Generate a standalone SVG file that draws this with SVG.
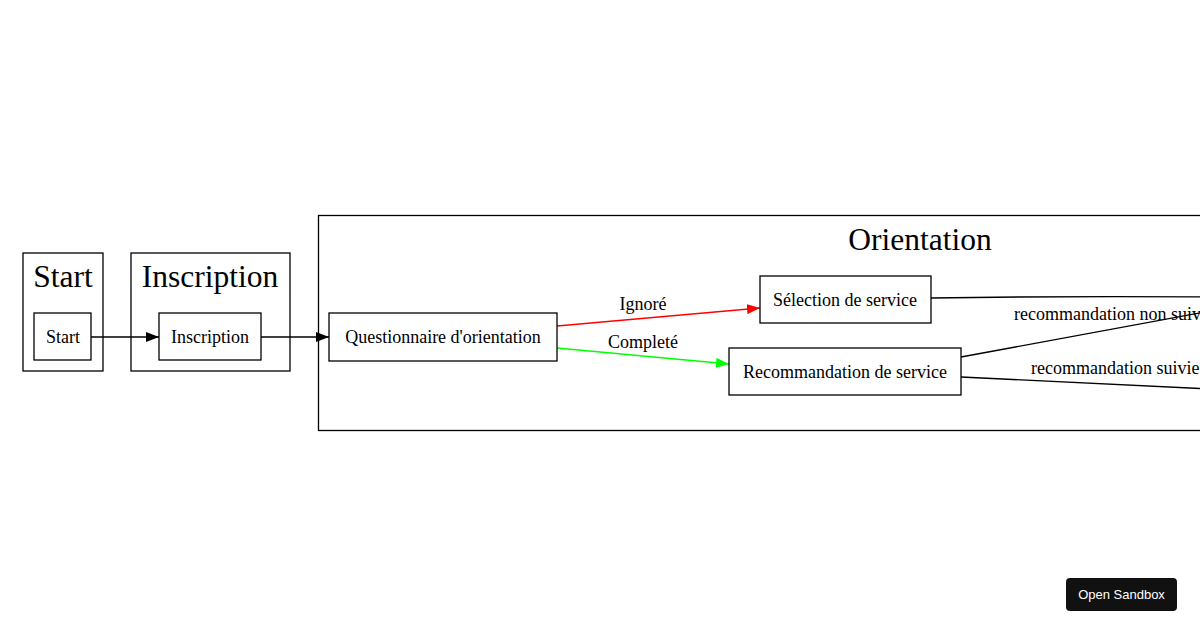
<svg xmlns="http://www.w3.org/2000/svg" width="1200" height="630" viewBox="0 0 1200 630">
<style>
.cl{fill:none;stroke:#000;stroke-width:1.3}
.nd{fill:#fff;stroke:#000;stroke-width:1.3}
.ct{font-family:"Liberation Serif",serif;font-size:31.5px;text-anchor:middle;fill:#000}
.nt{font-family:"Liberation Serif",serif;font-size:18px;text-anchor:middle;fill:#000}
.el{font-family:"Liberation Serif",serif;font-size:18px;fill:#000}
.e{fill:none;stroke-width:1.3}
</style>
<defs>
<marker id="ak" viewBox="0 0 13 10" refX="13" refY="5" markerWidth="13" markerHeight="10" markerUnits="userSpaceOnUse" orient="auto"><path d="M0,0L13,5L0,10z" fill="#000"/></marker>
<marker id="ar" viewBox="0 0 13 10" refX="13" refY="5" markerWidth="13" markerHeight="10" markerUnits="userSpaceOnUse" orient="auto"><path d="M0,0L13,5L0,10z" fill="#f00"/></marker>
<marker id="ag" viewBox="0 0 13 10" refX="13" refY="5" markerWidth="13" markerHeight="10" markerUnits="userSpaceOnUse" orient="auto"><path d="M0,0L13,5L0,10z" fill="#0f0"/></marker>
</defs>
<rect width="1200" height="630" fill="#fff"/>
<g id="cluster-start"><rect class="cl" x="23" y="253" width="80" height="118"/><text class="ct" x="63" y="287">Start</text></g>
<g id="cluster-inscription"><rect class="cl" x="131" y="253" width="159" height="118"/><text class="ct" x="210" y="287">Inscription</text></g>
<g id="cluster-orientation"><rect class="cl" x="318.5" y="215.5" width="900" height="215"/><text class="ct" x="920" y="250">Orientation</text></g>
<g id="connectors">
<path class="e" stroke="#000" d="M91,337L159,337" marker-end="url(#ak)"/>
<path class="e" stroke="#000" d="M261,337L329,337" marker-end="url(#ak)"/>
<path class="e" stroke="#f00" d="M557,326L760,308" marker-end="url(#ar)"/>
<path class="e" stroke="#0f0" d="M557,348L729,364" marker-end="url(#ag)"/>
<path class="e" stroke="#000" d="M931,298Q1060,296 1210,297"/>
<path class="e" stroke="#000" d="M961,357L1210,311"/>
<path class="e" stroke="#000" d="M961,377L1210,389"/>
<text class="el" x="643" y="310" text-anchor="middle">Ignoré</text>
<text class="el" x="643" y="348" text-anchor="middle">Completé</text>
<text class="el" x="1014" y="320">recommandation non suivie</text>
<text class="el" x="1031" y="374">recommandation suivie</text>
</g>
<g id="node-start"><rect class="nd" x="34" y="313" width="57" height="47"/><text class="nt" x="63" y="343">Start</text></g>
<g id="node-inscription"><rect class="nd" x="159" y="313" width="102" height="47"/><text class="nt" x="210" y="343">Inscription</text></g>
<g id="node-questionnaire"><rect class="nd" x="329" y="313" width="228" height="48"/><text class="nt" x="443" y="343">Questionnaire d'orientation</text></g>
<g id="node-selection"><rect class="nd" x="760" y="276" width="171" height="47"/><text class="nt" x="845" y="306">Sélection de service</text></g>
<g id="node-recommandation"><rect class="nd" x="729" y="348" width="232" height="47"/><text class="nt" x="845" y="378">Recommandation de service</text></g>
<g id="button"><rect x="1066" y="578" width="111" height="33" rx="4" fill="#111"/><text x="1121.5" y="599" font-family="'Liberation Sans',Arial,sans-serif" font-size="13" fill="#fff" text-anchor="middle">Open Sandbox</text></g>
</svg>
